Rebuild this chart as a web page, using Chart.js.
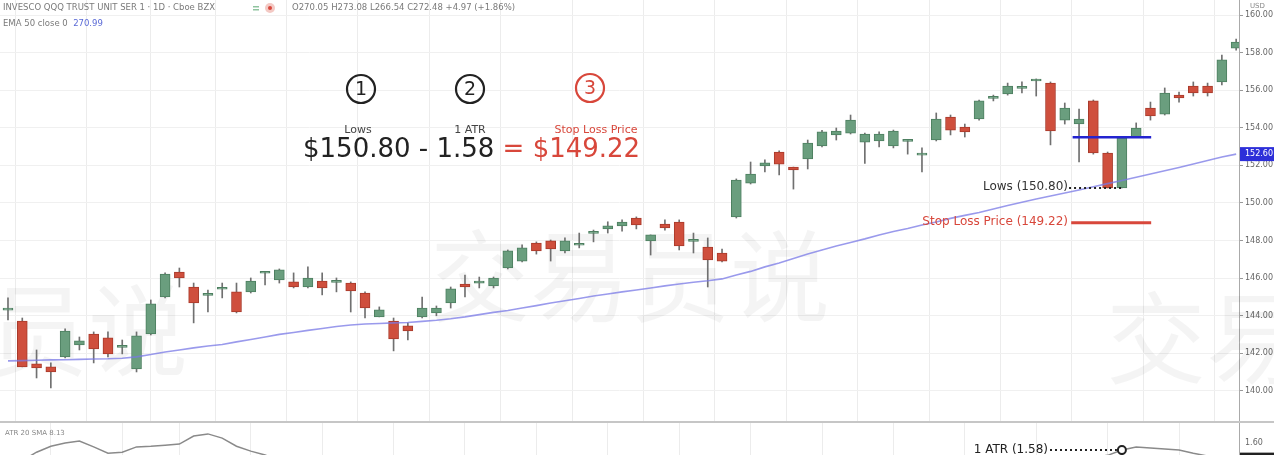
<!DOCTYPE html>
<html>
<head>
<meta charset="utf-8">
<script src="https://cdn.jsdelivr.net/npm/chart.js@4.4.0/dist/chart.umd.min.js"></script>
<style>
  html, body { margin: 0; padding: 0; background: #fff; }
  #wrap { width: 1274px; height: 455px; position: relative; overflow: hidden; }
  canvas { display: block; }
  #sep { height: 2px; background: #c6c6c6; }
</style>
</head>
<body>
<div id="wrap">
  <canvas id="main" width="1274" height="421"></canvas>
  <div id="sep"></div>
  <canvas id="atr" width="1274" height="32"></canvas>
</div>
<script>
// daily candles (index 1 = leftmost visible bar)
const opens = [144.30, 143.72, 141.44, 141.28, 141.81, 142.45, 143.03, 142.82, 142.32, 141.17,
  143.03, 145.00, 146.33, 145.53, 145.08, 145.41, 145.27, 145.27, 146.26, 145.90,
  145.80, 145.53, 145.85, 145.78, 145.74, 145.21, 143.94, 143.72, 143.46, 143.94,
  144.15, 144.68, 145.69, 145.74, 145.59, 146.54, 146.91, 147.87, 147.98, 147.45,
  147.75, 148.38, 148.62, 148.78, 149.20, 147.98, 148.88, 148.99, 147.96, 147.66,
  147.34, 149.26, 151.06, 151.97, 152.71, 151.91, 152.34, 153.03, 153.62, 153.72,
  153.24, 153.30, 153.03, 153.28, 152.55, 153.35, 154.57, 154.04, 154.47, 155.57,
  155.80, 156.10, 156.49, 156.38, 154.41, 154.20, 155.43, 152.66, 150.80, 153.51,
  155.05, 154.73, 155.74, 156.22, 156.22, 156.44, 158.24];
const highs = [144.95, 143.88, 142.18, 141.49, 143.30, 142.87, 143.14, 143.14, 142.71, 143.14,
  144.84, 146.28, 146.54, 145.74, 145.37, 145.74, 145.74, 146.01, 146.33, 146.49,
  146.28, 146.60, 146.28, 146.01, 145.80, 145.27, 144.47, 143.88, 143.62, 145.00,
  144.52, 145.53, 146.17, 146.06, 146.06, 147.50, 147.77, 147.93, 148.03, 148.14,
  148.40, 148.56, 149.00, 149.10, 149.26, 148.30, 149.10, 149.10, 148.40, 148.14,
  147.55, 151.28, 152.18, 152.29, 152.77, 151.91, 153.35, 153.86, 153.99, 154.68,
  153.72, 153.78, 153.88, 153.35, 152.93, 154.79, 154.68, 154.20, 155.48, 155.74,
  156.38, 156.44, 156.60, 156.44, 155.32, 155.00, 155.48, 152.71, 153.51, 154.26,
  155.37, 156.12, 155.90, 156.44, 156.38, 157.87, 158.72];
const lows = [143.78, 141.28, 140.69, 140.16, 141.76, 142.18, 141.49, 141.81, 141.97, 141.01,
  142.98, 144.95, 145.53, 143.62, 144.20, 144.95, 144.15, 145.21, 145.64, 145.74,
  145.48, 145.48, 145.11, 145.27, 144.20, 143.88, 143.94, 142.13, 142.71, 143.88,
  144.00, 144.41, 145.00, 145.48, 145.48, 146.49, 146.86, 147.28, 146.91, 147.34,
  147.61, 147.93, 148.40, 148.50, 148.62, 147.23, 148.56, 147.50, 147.34, 145.53,
  146.86, 149.20, 151.01, 151.65, 151.49, 150.74, 151.81, 152.98, 153.35, 153.67,
  152.10, 152.98, 152.93, 152.60, 151.65, 153.30, 153.62, 153.51, 154.41, 155.43,
  155.74, 155.85, 155.69, 153.09, 154.20, 152.18, 152.60, 150.80, 150.80, 153.51,
  154.41, 154.68, 155.37, 155.69, 155.69, 156.28, 158.13];
const closes = [144.34, 141.28, 141.22, 141.01, 143.19, 142.66, 142.23, 141.97, 142.36, 142.93,
  144.63, 146.22, 146.01, 144.68, 145.14, 145.45, 144.20, 145.85, 146.30, 146.44,
  145.53, 146.01, 145.48, 145.82, 145.32, 144.41, 144.31, 142.77, 143.19, 144.41,
  144.41, 145.43, 145.53, 145.85, 146.01, 147.45, 147.61, 147.45, 147.55, 147.98,
  147.79, 148.42, 148.78, 148.99, 148.83, 148.30, 148.67, 147.71, 148.00, 146.97,
  146.91, 151.22, 151.54, 152.13, 152.07, 151.76, 153.19, 153.78, 153.83, 154.41,
  153.67, 153.67, 153.83, 153.32, 152.58, 154.47, 153.88, 153.78, 155.43, 155.61,
  156.22, 156.14, 156.52, 153.83, 155.05, 154.47, 152.66, 150.80, 153.46, 153.99,
  154.63, 155.85, 155.59, 155.85, 155.85, 157.61, 158.56];
const ema50 = [141.60, 141.61, 141.63, 141.65, 141.66, 141.68, 141.70, 141.71, 141.74, 141.81,
  141.94, 142.07, 142.18, 142.29, 142.39, 142.47, 142.61, 142.74, 142.87, 143.01,
  143.11, 143.22, 143.32, 143.43, 143.51, 143.56, 143.59, 143.62, 143.64, 143.70,
  143.76, 143.84, 143.94, 144.06, 144.18, 144.28, 144.41, 144.54, 144.68, 144.80,
  144.92, 145.05, 145.16, 145.27, 145.37, 145.48, 145.59, 145.69, 145.78, 145.86,
  145.96, 146.17, 146.36, 146.60, 146.81, 147.05, 147.29, 147.50, 147.71, 147.90,
  148.09, 148.30, 148.48, 148.64, 148.83, 148.99, 149.18, 149.34, 149.49, 149.68,
  149.87, 150.04, 150.21, 150.37, 150.53, 150.69, 150.86, 151.03, 151.20, 151.37,
  151.54, 151.71, 151.89, 152.07, 152.26, 152.45, 152.60];
// ATR 20 (most of it sits below the visible strip)
const atr20 = [1.50, 1.55, 1.574, 1.591, 1.600, 1.606, 1.589, 1.571, 1.574, 1.589,
  1.591, 1.594, 1.597, 1.620, 1.626, 1.614, 1.591, 1.577, 1.566, 1.55,
  1.53, 1.52, 1.50, 1.49, 1.47, 1.46, 1.45, 1.45, 1.44, 1.43,
  1.42, 1.41, 1.40, 1.40, 1.39, 1.38, 1.38, 1.37, 1.37, 1.36,
  1.36, 1.35, 1.35, 1.35, 1.34, 1.34, 1.34, 1.35, 1.35, 1.36,
  1.38, 1.40, 1.41, 1.42, 1.42, 1.43, 1.43, 1.44, 1.44, 1.44,
  1.45, 1.45, 1.45, 1.46, 1.46, 1.46, 1.47, 1.47, 1.48, 1.49,
  1.50, 1.50, 1.51, 1.52, 1.53, 1.55, 1.56, 1.565, 1.58, 1.589,
  1.586, 1.583, 1.58, 1.571, 1.563, 1.556, 1.55];

const priceTicks = [140, 142, 144, 146, 148, 150, 152, 154, 156, 158, 160];
const atrTicks = [1.60];
const weekStarts = [4, 9, 13, 18, 23, 28, 33, 38, 43, 48, 53, 58, 63, 68, 73, 78, 83];

const lowsLevel = 150.80;
const atrValue = 1.58;
const stopLevel = 149.22;
const triggerLevel = 153.50;
const atrBar = 79;

const titleText = 'INVESCO QQQ TRUST UNIT SER 1 · 1D · Cboe BZX';
const ohlcText = 'O270.05 H273.08 L266.54 C272.48 +4.97 (+1.86%)';
const emaLegend = 'EMA 50 close 0';
const emaLegendValue = '270.99';
const atrLegend = 'ATR 20 SMA 8.13';
const watermark = '交易员说';

const GREEN = '#6a9e7e', GREEN_EDGE = '#4d7f60';
const RED = '#cf4f3d', RED_EDGE = '#a83a2b';
const RED_TXT = '#d8473b';

const idx = closes.map((c, i) => i + 1);
const upDay = closes.map((c, i) => c >= opens[i]);

function timeAxis() {
  return {
    type: 'linear',
    min: 0.44,
    max: 87.2,
    offset: false,
    afterBuildTicks: function(s) { s.ticks = weekStarts.map(v => ({ value: v })); },
    afterFit: function(s) { s.height = 0; s.paddingLeft = 0; s.paddingRight = 0; },
    ticks: { display: false },
    grid: { color: '#ececec', drawTicks: false },
    border: { display: false }
  };
}

function priceAxis(lo, hi, list) {
  return {
    position: 'right',
    min: lo,
    max: hi,
    afterBuildTicks: function(s) { s.ticks = list.map(v => ({ value: v })); },
    afterFit: function(s) { s.width = 35; s.paddingTop = 0; s.paddingBottom = 0; },
    ticks: {
      callback: v => v.toFixed(2),
      font: { size: 8, family: 'DejaVu Sans' },
      color: '#666',
      padding: 2
    },
    grid: { color: '#f0f0f0', tickLength: 4, tickColor: '#999' },
    border: { color: '#aaa' }
  };
}

function circled(ctx, x, y, n, color) {
  ctx.save();
  ctx.strokeStyle = color;
  ctx.lineWidth = 2.2;
  ctx.beginPath();
  ctx.arc(x, y, 14, 0, Math.PI * 2);
  ctx.stroke();
  ctx.fillStyle = color;
  ctx.font = '19px "DejaVu Sans"';
  ctx.textAlign = 'center';
  ctx.textBaseline = 'middle';
  ctx.fillText(n, x, y + 1);
  ctx.restore();
}

const mainOverlay = {
  id: 'mainOverlay',
  beforeDatasetsDraw(chart) {
    const ctx = chart.ctx;
    ctx.save();
    ctx.fillStyle = 'rgba(0,0,0,0.045)';
    ctx.font = '100px "Noto Sans CJK SC"';
    ctx.textBaseline = 'middle';
    ctx.fillText(watermark, -212, 330);
    ctx.fillText(watermark, 430, 276);
    ctx.fillText(watermark, 1106, 338);
    ctx.restore();
  },
  afterDraw(chart) {
    const ctx = chart.ctx;
    const xs = chart.scales.x, ys = chart.scales.y;
    ctx.save();

    // legend lines
    ctx.textBaseline = 'middle';
    ctx.font = '8.5px "DejaVu Sans"';
    ctx.fillStyle = '#7a7a7a';
    ctx.fillText(titleText, 3, 8);
    ctx.fillStyle = '#8fc49f';
    ctx.fillRect(253, 6, 6, 1.5);
    ctx.fillRect(253, 9, 6, 1.5);
    ctx.fillStyle = '#f3c9c4';
    ctx.beginPath(); ctx.arc(270, 8, 5, 0, Math.PI * 2); ctx.fill();
    ctx.fillStyle = '#d9473d';
    ctx.beginPath(); ctx.arc(270, 8, 2, 0, Math.PI * 2); ctx.fill();
    ctx.fillStyle = '#7a7a7a';
    ctx.fillText(ohlcText, 292, 8);
    ctx.fillText(emaLegend, 3, 24);
    const w = ctx.measureText(emaLegend + '  ').width;
    ctx.fillStyle = '#5a6ad6';
    ctx.fillText(emaLegendValue, 3 + w, 24);

    // currency label + EMA price tag on the axis
    ctx.fillStyle = '#888';
    ctx.font = '7px "DejaVu Sans"';
    ctx.fillText('USD', 1250, 6);
    const ey = ys.getPixelForValue(ema50[ema50.length - 1]);
    ctx.fillStyle = '#2d2fd9';
    ctx.fillRect(1240, ey - 7, 34, 14);
    ctx.fillStyle = '#fff';
    ctx.font = '8px "DejaVu Sans"';
    ctx.fillText(ema50[ema50.length - 1].toFixed(2), 1245, ey);

    // the worked example
    circled(ctx, 361, 89, '1', '#222');
    circled(ctx, 470, 89, '2', '#222');
    circled(ctx, 590, 88, '3', RED_TXT);
    ctx.textAlign = 'center';
    ctx.font = '11px "DejaVu Sans"';
    ctx.fillStyle = '#444';
    ctx.fillText('Lows', 358, 130);
    ctx.fillText('1 ATR', 470, 130);
    ctx.fillStyle = RED_TXT;
    ctx.fillText('Stop Loss Price', 596, 130);
    ctx.textAlign = 'left';
    ctx.font = '26px "DejaVu Sans"';
    const left = '$' + lowsLevel.toFixed(2) + ' - ' + atrValue.toFixed(2) + ' ';
    ctx.fillStyle = '#222';
    ctx.fillText(left, 303, 150);
    ctx.fillStyle = RED_TXT;
    ctx.fillText('= $' + stopLevel.toFixed(2), 303 + ctx.measureText(left).width, 150);

    // levels on the candles
    const yb = ys.getPixelForValue(triggerLevel);
    ctx.strokeStyle = '#2424d0';
    ctx.lineWidth = 2.5;
    ctx.beginPath();
    ctx.moveTo(xs.getPixelForValue(75.55), yb);
    ctx.lineTo(xs.getPixelForValue(81.05), yb);
    ctx.stroke();

    const yl = ys.getPixelForValue(lowsLevel);
    ctx.strokeStyle = '#222';
    ctx.lineWidth = 2;
    ctx.setLineDash([2, 3]);
    ctx.beginPath();
    ctx.moveTo(xs.getPixelForValue(75.3), yl);
    ctx.lineTo(xs.getPixelForValue(79.1), yl);
    ctx.stroke();
    ctx.setLineDash([]);
    ctx.font = '12px "DejaVu Sans"';
    ctx.textAlign = 'right';
    ctx.fillStyle = '#333';
    ctx.fillText('Lows (' + lowsLevel.toFixed(2) + ')', 1068, yl - 1);

    const ysl = ys.getPixelForValue(stopLevel) + 5;
    ctx.strokeStyle = RED_TXT;
    ctx.lineWidth = 3;
    ctx.beginPath();
    ctx.moveTo(xs.getPixelForValue(75.45), ysl);
    ctx.lineTo(xs.getPixelForValue(81.05), ysl);
    ctx.stroke();
    ctx.fillStyle = RED_TXT;
    ctx.fillText('Stop Loss Price (' + stopLevel.toFixed(2) + ')', 1068, ysl - 1);

    ctx.restore();
  }
};

new Chart(document.getElementById('main'), {
  type: 'bar',
  data: {
    datasets: [
      {
        label: 'wick',
        data: idx.map((x, i) => ({ x: x, y: [lows[i], highs[i]] })),
        backgroundColor: '#707070',
        barThickness: 1,
        grouped: false,
        order: 3
      },
      {
        label: 'body',
        data: idx.map((x, i) => ({ x: x, y: [opens[i], closes[i]] })),
        backgroundColor: upDay.map(u => u ? GREEN : RED),
        borderColor: upDay.map(u => u ? GREEN_EDGE : RED_EDGE),
        borderWidth: 1,
        borderSkipped: false,
        barThickness: 10,
        minBarLength: 2,
        grouped: false,
        order: 2
      },
      {
        type: 'line',
        label: 'EMA 50',
        data: idx.map((x, i) => ({ x: x, y: ema50[i] })),
        borderColor: 'rgba(120,120,230,0.75)',
        borderWidth: 1.6,
        pointRadius: 0,
        tension: 0,
        order: 1
      }
    ]
  },
  options: {
    responsive: false,
    devicePixelRatio: 1,
    animation: false,
    layout: { padding: 0 },
    plugins: { legend: { display: false }, tooltip: { enabled: false } },
    scales: {
      x: timeAxis(),
      y: priceAxis(138.40, 160.80, priceTicks)
    }
  },
  plugins: [mainOverlay]
});

const atrOverlay = {
  id: 'atrOverlay',
  afterDraw(chart) {
    const ctx = chart.ctx;
    const xs = chart.scales.x, ys = chart.scales.y;
    ctx.save();
    ctx.textBaseline = 'middle';
    ctx.font = '7px "DejaVu Sans"';
    ctx.fillStyle = '#888';
    ctx.fillText(atrLegend, 5, 10);

    const px = xs.getPixelForValue(atrBar), py = ys.getPixelForValue(atrValue);
    ctx.strokeStyle = '#222';
    ctx.lineWidth = 2;
    ctx.setLineDash([2, 3]);
    ctx.beginPath();
    ctx.moveTo(1050, py);
    ctx.lineTo(px - 5, py);
    ctx.stroke();
    ctx.setLineDash([]);
    ctx.fillStyle = '#fff';
    ctx.beginPath();
    ctx.arc(px, py, 4, 0, Math.PI * 2);
    ctx.fill();
    ctx.stroke();
    ctx.font = '12px "DejaVu Sans"';
    ctx.textAlign = 'right';
    ctx.fillStyle = '#222';
    ctx.fillText('1 ATR (' + atrValue.toFixed(2) + ')', 1048, py);

    const ly = ys.getPixelForValue(atr20[atr20.length - 1]);
    ctx.fillStyle = '#222';
    ctx.fillRect(1240, ly - 8, 34, 16);
    ctx.restore();
  }
};

const atrAxis = priceAxis(1.566, 1.657, atrTicks);
atrAxis.grid = { display: false, tickLength: 4 };

new Chart(document.getElementById('atr'), {
  type: 'line',
  data: {
    datasets: [{
      label: 'ATR',
      data: idx.map((x, i) => ({ x: x, y: atr20[i] })),
      borderColor: '#8a8a8a',
      borderWidth: 1.5,
      pointRadius: 0,
      tension: 0
    }]
  },
  options: {
    responsive: false,
    devicePixelRatio: 1,
    animation: false,
    layout: { padding: 0 },
    plugins: { legend: { display: false }, tooltip: { enabled: false } },
    scales: {
      x: timeAxis(),
      y: atrAxis
    }
  },
  plugins: [atrOverlay]
});
</script>
</body>
</html>
